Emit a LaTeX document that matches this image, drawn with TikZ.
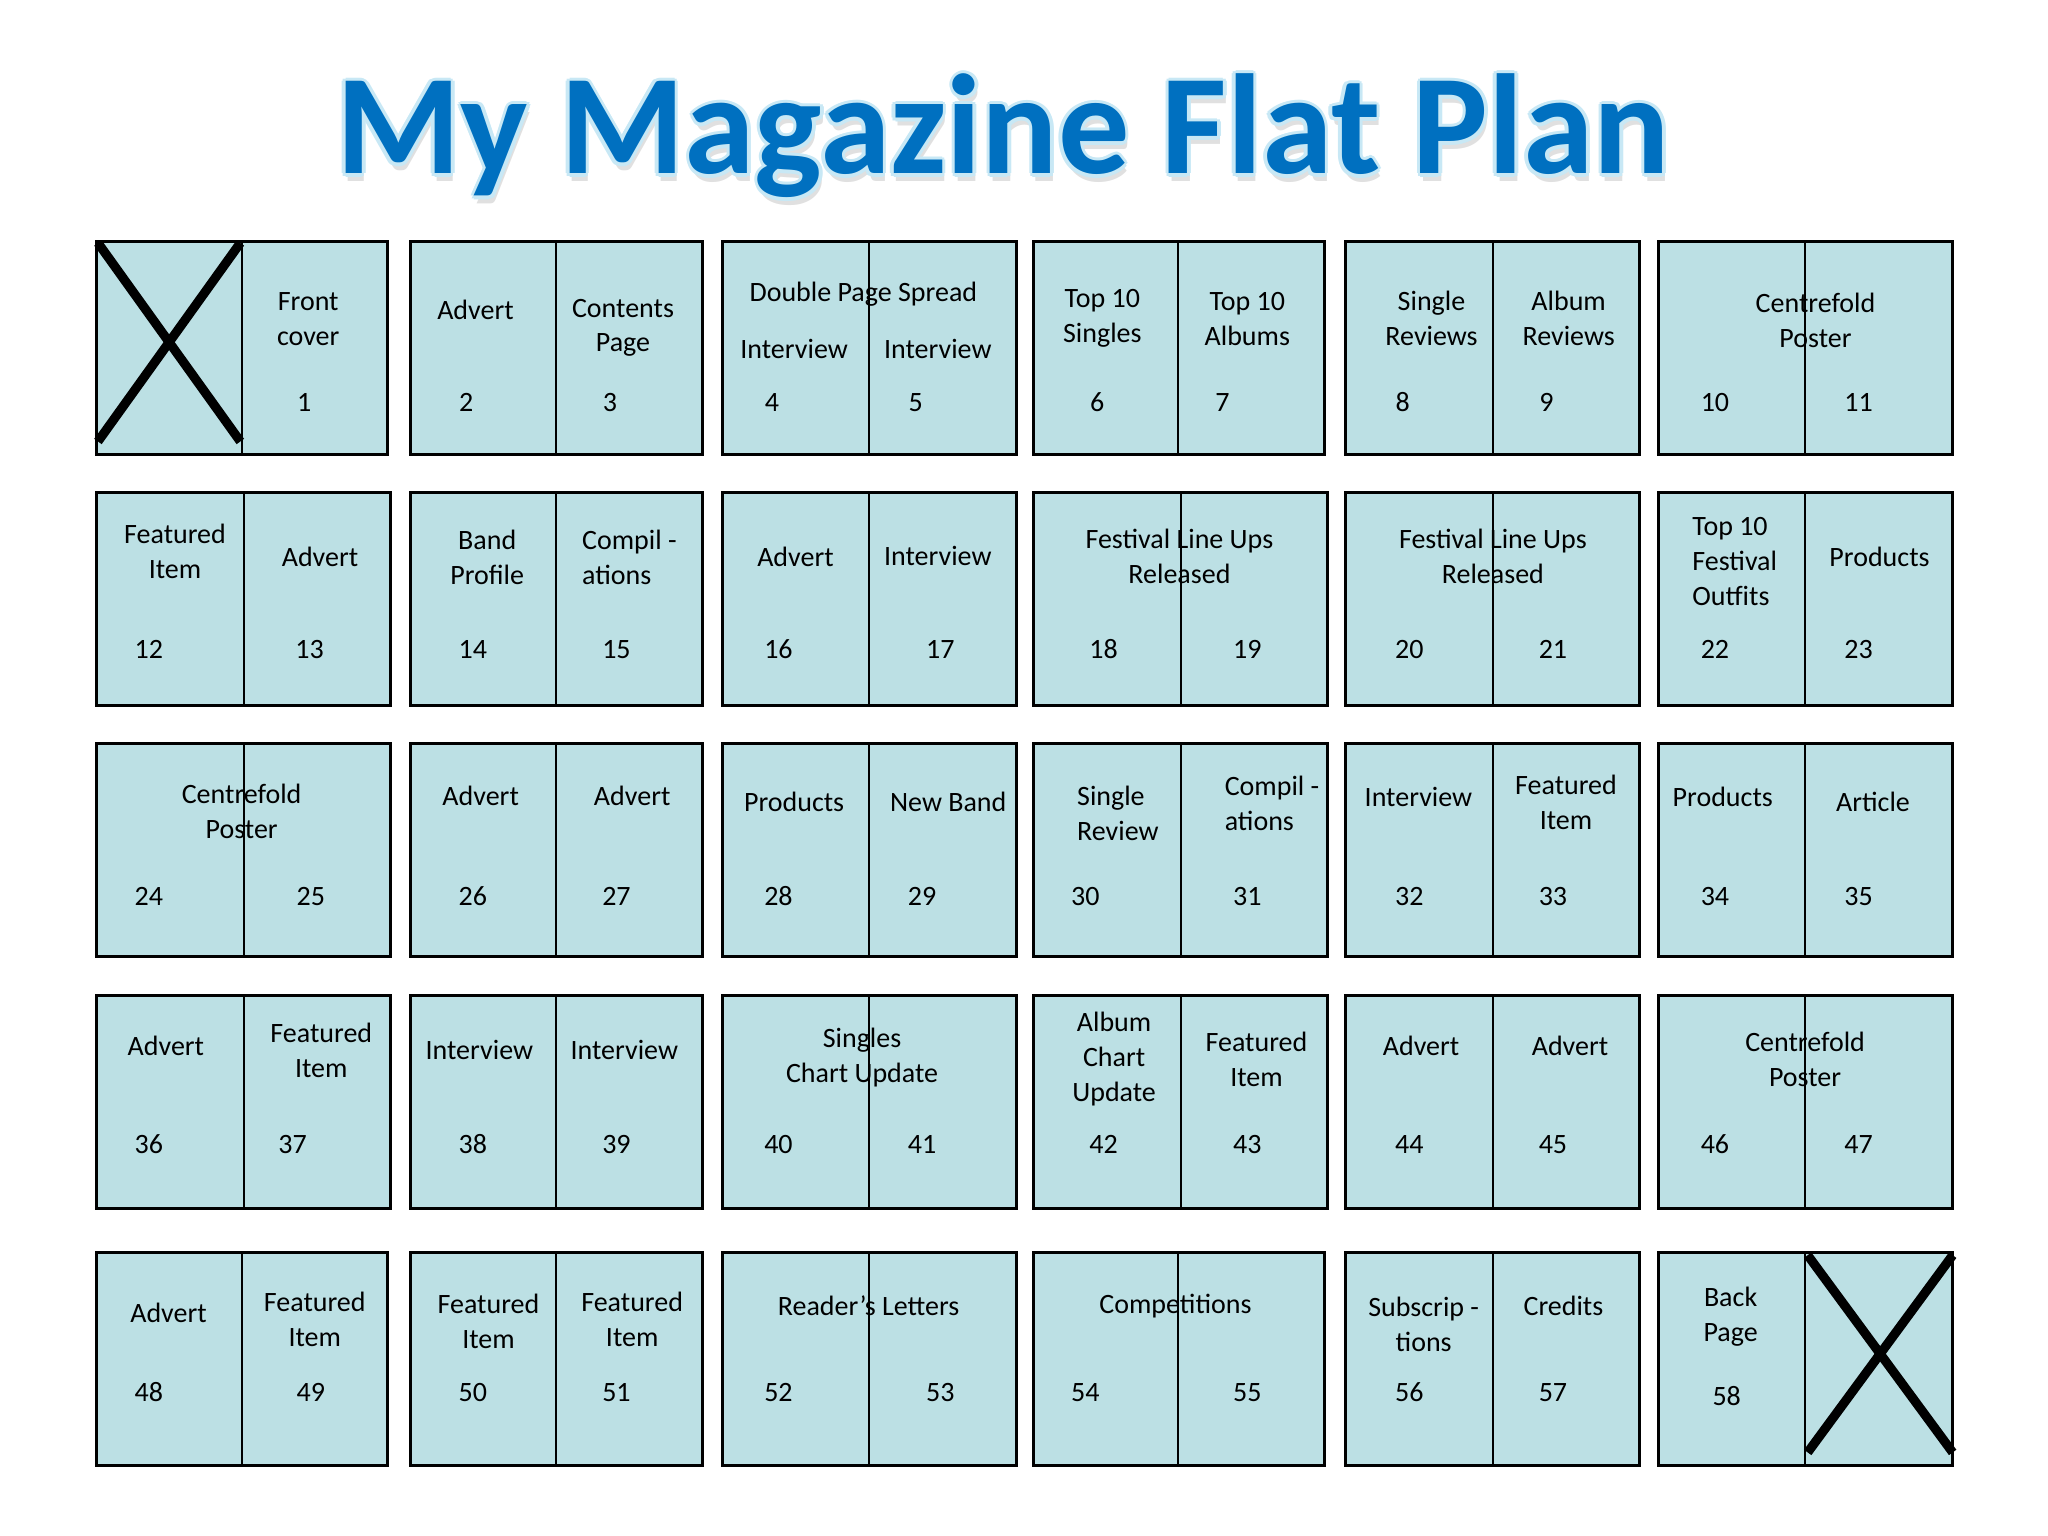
\documentclass[tikz,border=0pt]{standalone}
\usepackage{fontspec}
\setmainfont{Carlito}
\usepackage[copies]{contour}
\definecolor{page}{RGB}{188,224,228}
\definecolor{titleblue}{RGB}{0,112,192}
\definecolor{glow}{RGB}{200,232,245}

\begin{document}
\begin{tikzpicture}[
  x=0.1mm, y=-0.1mm,
  spread/.style={fill=page, draw=black, line width=0.65pt},
  fold/.style={line width=0.45pt},
  cross/.style={line width=2pt},
  lbl/.style={font=\fontsize{6.1}{7.6}\selectfont, align=center, inner sep=0pt},
  lbll/.style={lbl, align=left, anchor=west},
  num/.style={font=\fontsize{6.1}{7.6}\selectfont, inner sep=0pt},
  ttl/.style={font=\fontsize{31}{36}\selectfont\bfseries, anchor=base, inner sep=0pt},
]
\useasboundingbox (0,0) rectangle (1568,1176);

% title
\node[ttl, text=black!12] (shadow) at (770,139) {My Magazine Flat Plan};
\contourlength{0.8pt}
\contournumber{8}
\node[ttl, text=titleblue] (title) at (768,133) {\contour{glow}{My Magazine Flat Plan}};

% pages
\draw[spread] (74,185) rectangle (297,348);
\draw[spread] (314,185) rectangle (538,348);
\draw[spread] (553,185) rectangle (778,348);
\draw[spread] (791,185) rectangle (1014,348);
\draw[spread] (1030,185) rectangle (1255,348);
\draw[spread] (1270,185) rectangle (1495,348);

\draw[spread] (74,377) rectangle (299,540);
\draw[spread] (314,377) rectangle (538,540);
\draw[spread] (553,377) rectangle (778,540);
\draw[spread] (791,377) rectangle (1016,540);
\draw[spread] (1030,377) rectangle (1255,540);
\draw[spread] (1270,377) rectangle (1495,540);

\draw[spread] (74,569) rectangle (299,732);
\draw[spread] (314,569) rectangle (538,732);
\draw[spread] (553,569) rectangle (778,732);
\draw[spread] (791,569) rectangle (1016,732);
\draw[spread] (1030,569) rectangle (1255,732);
\draw[spread] (1270,569) rectangle (1495,732);

\draw[spread] (74,762) rectangle (299,925);
\draw[spread] (314,762) rectangle (538,925);
\draw[spread] (553,762) rectangle (778,925);
\draw[spread] (791,762) rectangle (1016,925);
\draw[spread] (1030,762) rectangle (1255,925);
\draw[spread] (1270,762) rectangle (1495,925);

\draw[spread] (74,959) rectangle (297,1122);
\draw[spread] (314,959) rectangle (538,1122);
\draw[spread] (553,959) rectangle (778,1122);
\draw[spread] (791,959) rectangle (1014,1122);
\draw[spread] (1030,959) rectangle (1255,1122);
\draw[spread] (1270,959) rectangle (1495,1122);

% row 1
\node[lbl] (l1) at (236,244) {Front\\cover};
\node[num] (n1) at (233,308) {1};
\node[lbl] (l2) at (364,237) {Advert};
\node[num] (n2) at (357,308) {2};
\node[lbl] (l3) at (477,251) {Contents\\Page};
\node[num] (n3) at (467,308) {3};
\node[lbl] (l4) at (661,225) {Double Page Spread};
\node[lbl] (l4a) at (608,267) {Interview};
\node[lbl] (l5) at (718,267) {Interview};
\node[num] (n4) at (591,308) {4};
\node[num] (n5) at (701,308) {5};
\node[lbl] (l6) at (844,244) {Top 10\\Singles};
\node[num] (n6) at (840,308) {6};
\node[lbl] (l7) at (955,244) {Top 10\\Albums};
\node[num] (n7) at (936,308) {7};
\node[lbl] (l8) at (1096,244) {Single\\Reviews};
\node[num] (n8) at (1074,308) {8};
\node[lbl] (l9) at (1201,244) {Album\\Reviews};
\node[num] (n9) at (1184,308) {9};
\node[lbl] (l10) at (1390,245) {Centrefold\\Poster};
\node[num] (n10) at (1313,308) {10};
\node[num] (n11) at (1423,308) {11};

% row 2
\node[lbl] (l12) at (134,422) {Featured\\Item};
\node[num] (n12) at (114,497) {12};
\node[lbl] (l13) at (245,426) {Advert};
\node[num] (n13) at (237,497) {13};
\node[lbl] (l14) at (373,427) {Band\\Profile};
\node[num] (n14) at (362,497) {14};
\node[lbll] (l15) at (445,427) {Compil -\\ations};
\node[num] (n15) at (472,497) {15};
\node[lbl] (l16) at (609,426) {Advert};
\node[num] (n16) at (596,497) {16};
\node[lbl] (l17) at (718,426) {Interview};
\node[num] (n17) at (720,497) {17};
\node[lbl] (l18) at (903,426) {Festival Line Ups\\Released};
\node[num] (n18) at (845,497) {18};
\node[num] (n19) at (955,497) {19};
\node[lbl] (l20) at (1143,426) {Festival Line Ups\\Released};
\node[num] (n20) at (1079,497) {20};
\node[num] (n21) at (1189,497) {21};
\node[lbll] (l22) at (1295,430) {Top 10\\Festival\\Outfits};
\node[num] (n22) at (1313,497) {22};
\node[lbl] (l23) at (1439,426) {Products};
\node[num] (n23) at (1423,497) {23};

% row 3
\node[lbl] (l24) at (185,621) {Centrefold\\Poster};
\node[num] (n24) at (114,686) {24};
\node[num] (n25) at (238,686) {25};
\node[lbl] (l26) at (368,609) {Advert};
\node[num] (n26) at (362,686) {26};
\node[lbl] (l27) at (484,609) {Advert};
\node[num] (n27) at (472,686) {27};
\node[lbl] (l28) at (608,614) {Products};
\node[num] (n28) at (596,686) {28};
\node[lbl] (l29) at (726,614) {New Band};
\node[num] (n29) at (706,686) {29};
\node[lbll] (l30) at (824,623) {Single\\Review};
\node[num] (n30) at (831,686) {30};
\node[lbll] (l31) at (937,615) {Compil -\\ations};
\node[num] (n31) at (955,686) {31};
\node[lbl] (l32) at (1086,610) {Interview};
\node[num] (n32) at (1079,686) {32};
\node[lbl] (l33) at (1199,614) {Featured\\Item};
\node[num] (n33) at (1189,686) {33};
\node[lbl] (l34) at (1319,610) {Products};
\node[num] (n34) at (1313,686) {34};
\node[lbl] (l35) at (1434,614) {Article};
\node[num] (n35) at (1423,686) {35};

% row 4
\node[lbl] (l36) at (127,801) {Advert};
\node[num] (n36) at (114,876) {36};
\node[lbl] (l37) at (246,804) {Featured\\Item};
\node[num] (n37) at (224,876) {37};
\node[lbl] (l38) at (367,804) {Interview};
\node[num] (n38) at (362,876) {38};
\node[lbl] (l39) at (478,804) {Interview};
\node[num] (n39) at (472,876) {39};
\node[lbl] (l40) at (660,810) {Singles\\Chart Update};
\node[num] (n40) at (596,876) {40};
\node[num] (n41) at (706,876) {41};
\node[lbl] (l42) at (853,811) {Album\\Chart\\Update};
\node[num] (n42) at (845,876) {42};
\node[lbl] (l43) at (962,811) {Featured\\Item};
\node[num] (n43) at (955,876) {43};
\node[lbl] (l44) at (1088,801) {Advert};
\node[num] (n44) at (1079,876) {44};
\node[lbl] (l45) at (1202,801) {Advert};
\node[num] (n45) at (1189,876) {45};
\node[lbl] (l46) at (1382,811) {Centrefold\\Poster};
\node[num] (n46) at (1313,876) {46};
\node[num] (n47) at (1423,876) {47};

% row 5
\node[lbl] (l48) at (129,1005) {Advert};
\node[num] (n48) at (114,1066) {48};
\node[lbl] (l49) at (241,1010) {Featured\\Item};
\node[num] (n49) at (238,1066) {49};
\node[lbl] (l50) at (374,1012) {Featured\\Item};
\node[num] (n50) at (362,1066) {50};
\node[lbl] (l51) at (484,1010) {Featured\\Item};
\node[num] (n51) at (472,1066) {51};
\node[lbl] (l52) at (665,1000) {Reader’s Letters};
\node[num] (n52) at (596,1066) {52};
\node[num] (n53) at (720,1066) {53};
\node[lbl] (l54) at (900,1000) {Competitions};
\node[num] (n54) at (831,1066) {54};
\node[num] (n55) at (955,1066) {55};
\node[lbl] (l56) at (1090,1014) {Subscrip -\\tions};
\node[num] (n56) at (1079,1066) {56};
\node[lbl] (l57) at (1197,1000) {Credits};
\node[num] (n57) at (1189,1066) {57};
\node[lbl] (l58) at (1325,1008) {Back\\Page};
\node[num] (n58) at (1322,1069) {58};

% folds
\draw[fold] (185,185) -- (185,348);
\draw[fold] (426,185) -- (426,348);
\draw[fold] (665,185) -- (665,348);
\draw[fold] (902,185) -- (902,348);
\draw[fold] (1143,185) -- (1143,348);
\draw[fold] (1382,185) -- (1382,348);

\draw[fold] (187,377) -- (187,540);
\draw[fold] (426,377) -- (426,540);
\draw[fold] (665,377) -- (665,540);
\draw[fold] (904,377) -- (904,540);
\draw[fold] (1143,377) -- (1143,540);
\draw[fold] (1382,377) -- (1382,540);

\draw[fold] (187,569) -- (187,732);
\draw[fold] (426,569) -- (426,732);
\draw[fold] (665,569) -- (665,732);
\draw[fold] (904,569) -- (904,732);
\draw[fold] (1143,569) -- (1143,732);
\draw[fold] (1382,569) -- (1382,732);

\draw[fold] (187,762) -- (187,925);
\draw[fold] (426,762) -- (426,925);
\draw[fold] (665,762) -- (665,925);
\draw[fold] (904,762) -- (904,925);
\draw[fold] (1143,762) -- (1143,925);
\draw[fold] (1382,762) -- (1382,925);

\draw[fold] (185,959) -- (185,1122);
\draw[fold] (426,959) -- (426,1122);
\draw[fold] (665,959) -- (665,1122);
\draw[fold] (902,959) -- (902,1122);
\draw[fold] (1143,959) -- (1143,1122);
\draw[fold] (1382,959) -- (1382,1122);

% unused pages
\draw[cross] (75,186) -- (184,338);
\draw[cross] (75,338) -- (184,186);
\draw[cross] (1384,961) -- (1495,1112);
\draw[cross] (1384,1112) -- (1495,961);

\end{tikzpicture}
\end{document}
